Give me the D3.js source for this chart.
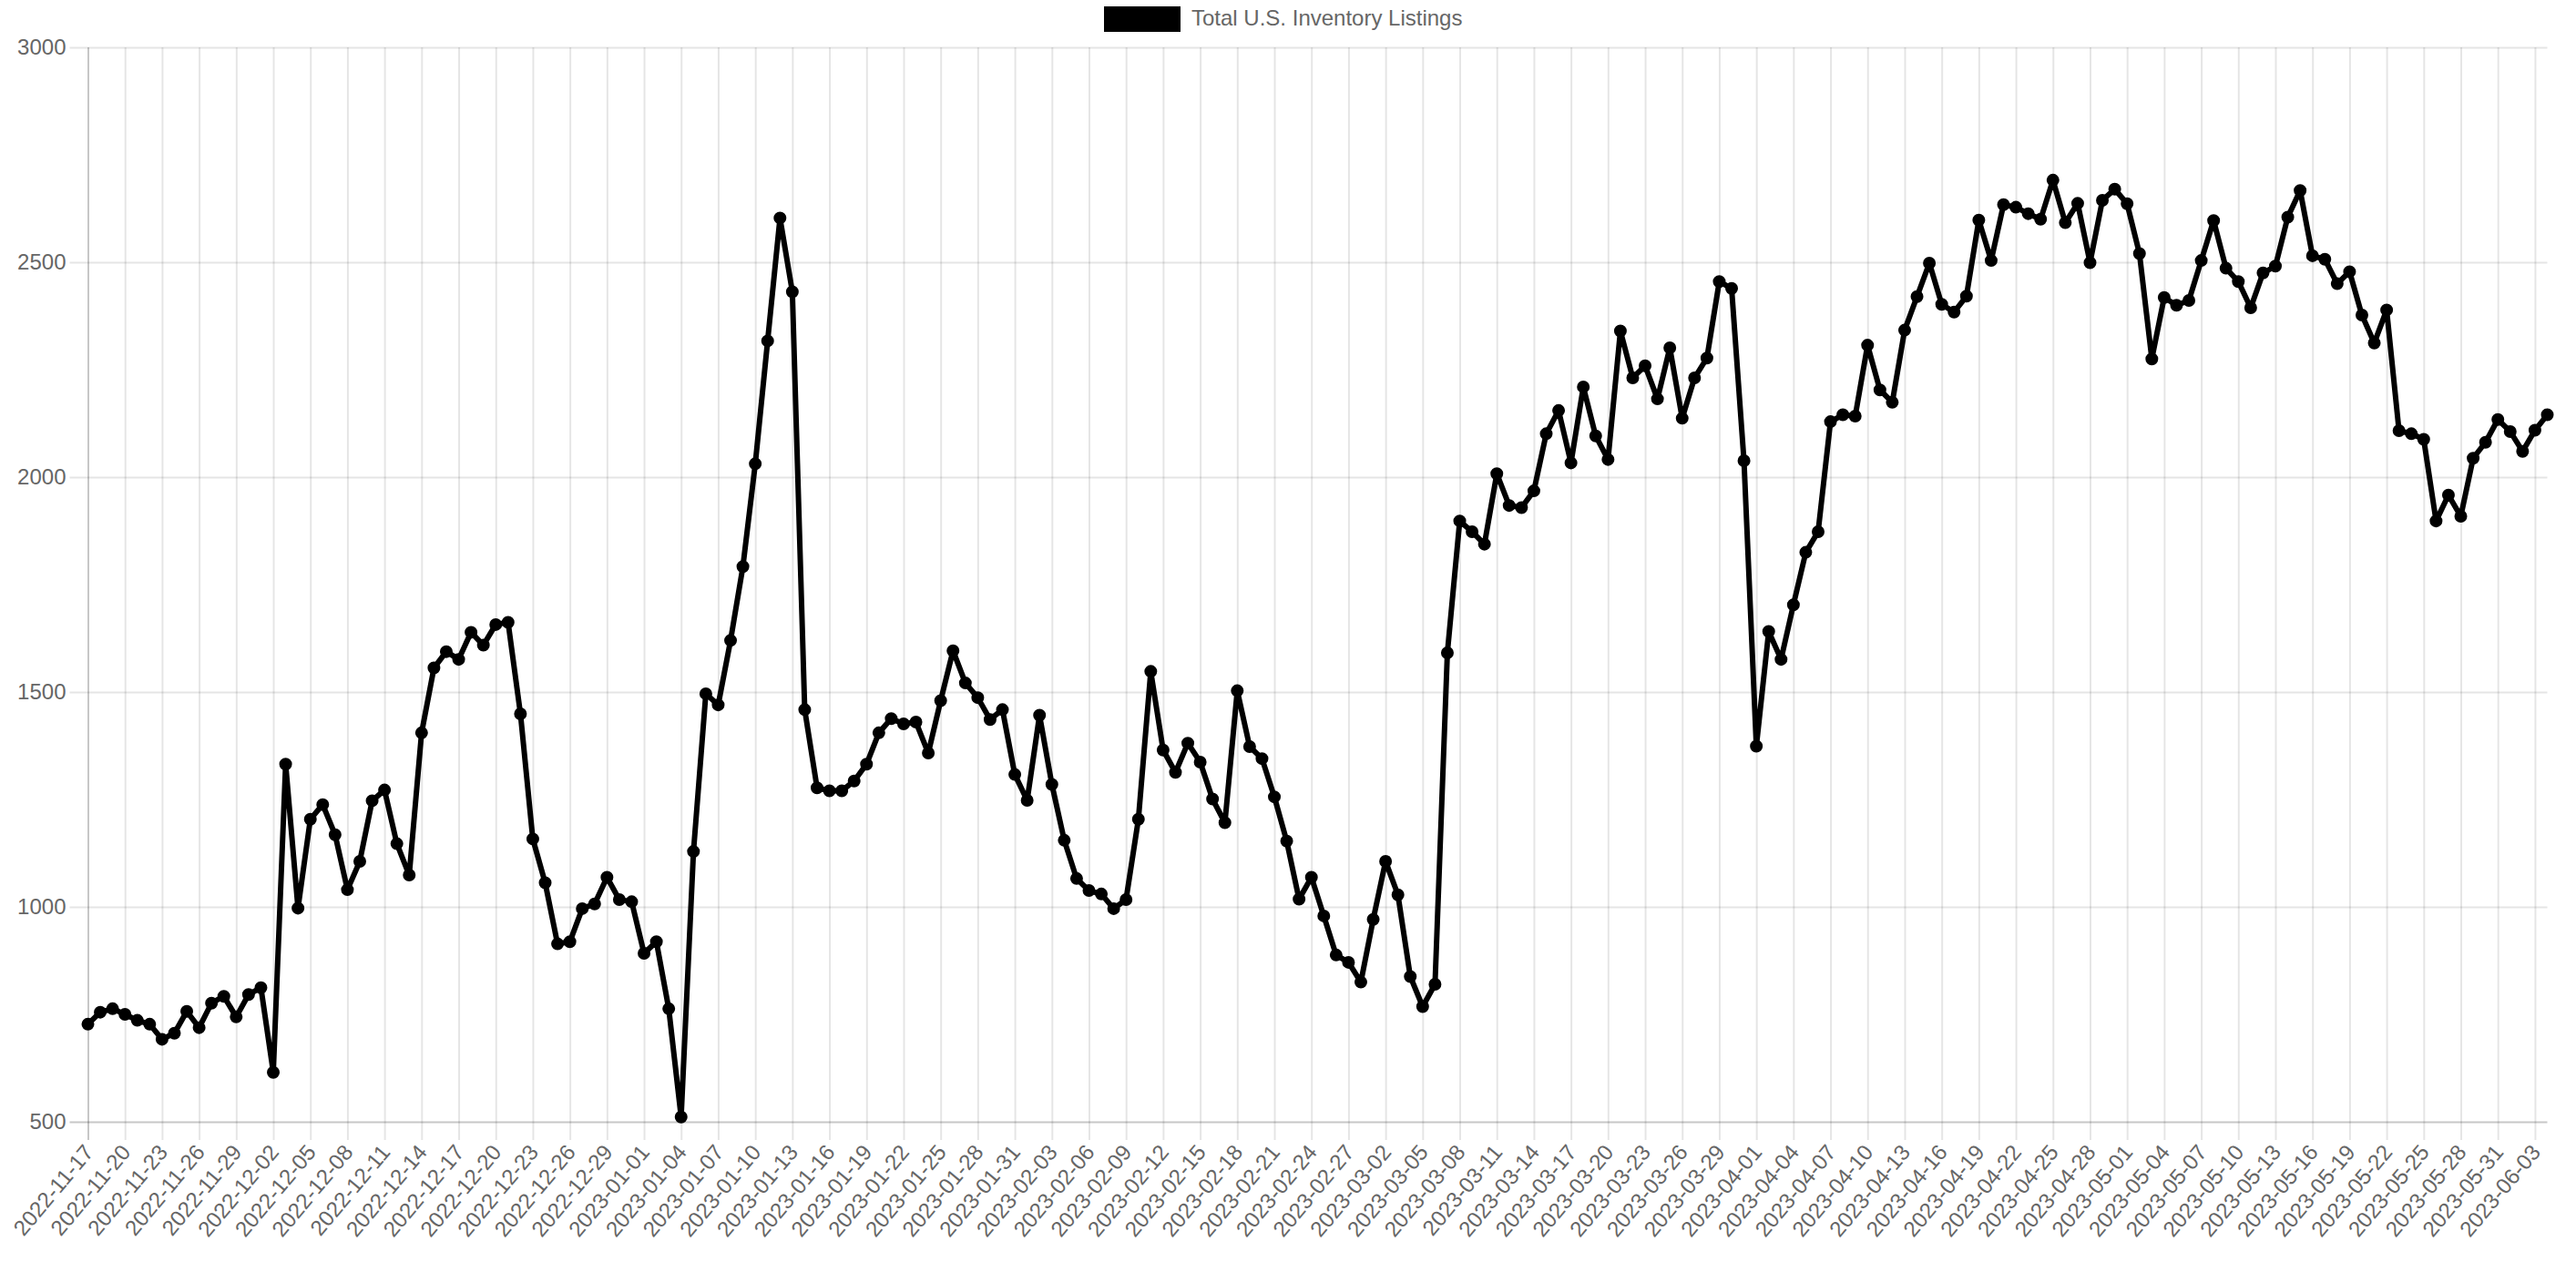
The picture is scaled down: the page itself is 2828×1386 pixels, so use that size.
<!DOCTYPE html>
<html>
<head>
<meta charset="utf-8">
<script src="https://cdn.jsdelivr.net/npm/d3@7"></script>
<style>
  html, body { margin: 0; padding: 0; background: #fff; }
  svg { display: block; font-family: "Liberation Sans", Arial, Helvetica, sans-serif; }
</style>
</head>
<body>
<svg id="chart" width="2828" height="1386"></svg>
<script>
// Series name + date range (one point per day)
const seriesName = "Total U.S. Inventory Listings";
const startDate = "2022-11-17";
const endDate = "2023-06-04";

// Daily listing counts
const listings = [
    727, 755, 763, 750, 736, 727, 692, 706, 757, 719, 776, 792, 744, 796, 812, 615, 1332, 997, 1204, 1238, 1168, 1040, 1106, 1247, 1272,
    1147, 1074, 1405, 1556, 1594, 1576, 1639, 1609, 1657, 1662, 1449, 1158, 1056, 914, 919, 996, 1007, 1069, 1017, 1012, 892, 919, 763, 511, 1129,
    1496, 1470, 1620, 1792, 2031, 2317, 2603, 2431, 1459, 1277, 1270, 1270, 1293, 1332, 1405, 1438, 1426, 1430, 1358, 1480, 1596, 1521, 1487, 1436, 1459,
    1308, 1248, 1446, 1285, 1155, 1066, 1038, 1030, 996, 1017, 1204, 1548, 1365, 1313, 1381, 1337, 1251, 1196, 1503, 1373, 1345, 1256, 1153, 1018, 1069,
    979, 888, 871, 825, 971, 1106, 1028, 838, 768, 820, 1591, 1898, 1873, 1844, 2008, 1934, 1929, 1968, 2101, 2155, 2033, 2210, 2096, 2041, 2340,
    2231, 2259, 2182, 2301, 2137, 2231, 2277, 2455, 2439, 2038, 1374, 1641, 1576, 1703, 1825, 1873, 2129, 2145, 2142, 2307, 2203, 2174, 2342, 2420, 2498,
    2402, 2384, 2421, 2598, 2504, 2634, 2628, 2613, 2600, 2691, 2592, 2637, 2499, 2644, 2670, 2636, 2520, 2275, 2418, 2400, 2411, 2504, 2597, 2486, 2455,
    2394, 2475, 2491, 2605, 2667, 2515, 2507, 2450, 2478, 2377, 2312, 2389, 2108, 2101, 2088, 1898, 1958, 1909, 2044, 2081, 2134, 2106, 2060, 2109, 2145
];

const yTicks = [500, 1000, 1500, 2000, 2500, 3000];
const labelEvery = 3;

// layout
const svg = d3.select("#chart");
const W = +svg.attr("width");
const margin = {l: 96.5, r: 2796.5, t: 52, b: 1232};
const tickLen = 20;
const gridColor = "rgba(0,0,0,0.1)";
const borderColor = "rgba(0,0,0,0.22)";
const textColor = "#666";
const fontSize = 24;

const fmt = d3.utcFormat("%Y-%m-%d");
const parse = d3.utcParse("%Y-%m-%d");
const dates = d3.utcDay.range(parse(startDate), d3.utcDay.offset(parse(endDate), 1)).map(fmt);
const tickDates = dates.filter((d, i) => i % labelEvery === 0);

let x = d3.scalePoint().domain(dates).range([margin.l, margin.r]).padding(0);
let y = d3.scaleLinear().domain([500, 3000]).range([margin.b, margin.t]);

svg.append("rect").attr("width", W).attr("height", 1386).attr("fill", "#fff");

// horizontal grid + y labels
svg.append("g")
    .attr("transform", `translate(${margin.l - tickLen},0)`)
    .call(d3.axisLeft(y).tickValues(yTicks).tickFormat(d3.format("d"))
        .tickSizeInner(-(margin.r - margin.l + tickLen)).tickSizeOuter(0).tickPadding(4))
    .call(g => g.select(".domain").remove())
    .call(g => g.selectAll(".tick line")
        .attr("stroke", d => d === 500 ? borderColor : gridColor)
        .attr("stroke-width", 2))
    .call(g => g.selectAll(".tick text")
        .attr("fill", textColor)
        .attr("font-size", fontSize)
        .attr("font-family", null));

// vertical grid + rotated date labels
svg.append("g")
    .attr("transform", `translate(0,${margin.b + tickLen})`)
    .call(d3.axisBottom(x).tickValues(tickDates).tickSizeInner(-(margin.b - margin.t + tickLen)).tickSizeOuter(0).tickPadding(0))
    .call(g => g.select(".domain").remove())
    .call(g => g.selectAll(".tick line")
        .attr("stroke", d => d === dates[0] ? borderColor : gridColor)
        .attr("stroke-width", 2))
    .call(g => g.selectAll(".tick text")
        .attr("y", null)
        .attr("dy", null)
        .attr("transform", "translate(2,10) rotate(-50)")
        .attr("text-anchor", "end")
        .attr("dominant-baseline", "middle")
        .attr("fill", textColor)
        .attr("font-size", fontSize)
        .attr("font-family", null));

// the series line
let line = d3.line()
    .x((d, i) => x(dates[i]))
    .y(d => y(d));

svg.append("path")
    .datum(listings)
    .attr("d", line)
    .attr("fill", "none")
    .attr("stroke", "#000")
    .attr("stroke-width", 6)
    .attr("stroke-linejoin", "round");

svg.append("g").selectAll("circle")
    .data(listings)
    .enter()
    .append("circle")
    .attr("cx", (d, i) => x(dates[i]))
    .attr("cy", d => y(d))
    .attr("r", 6)
    .attr("fill", "#000")
    .attr("stroke", "#000")
    .attr("stroke-width", 2);

// legend
let legend = svg.append("g").attr("class", "legend");
legend.append("rect")
    .attr("x", 1212).attr("y", 7)
    .attr("width", 84).attr("height", 28)
    .attr("fill", "#000");
legend.append("text")
    .attr("x", 1308).attr("y", 22)
    .attr("dominant-baseline", "middle")
    .attr("fill", textColor)
    .attr("font-size", fontSize)
    .text(seriesName);
</script>
</body>
</html>
